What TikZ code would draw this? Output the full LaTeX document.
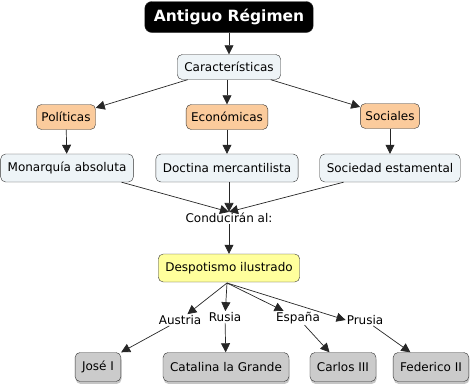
\documentclass[tikz,border=0pt]{standalone}
\usepackage{fontspec}
\setmainfont{DejaVu Sans}
\usepackage{tikz}
\usetikzlibrary{
    arrows.meta,
    positioning,
    shadows
}
\definecolor{titlebg}{rgb}{0.0, 0.0, 0.0}
\definecolor{palebox}{HTML}{EEF4F7}
\definecolor{orangebox}{HTML}{FBCB9C}
\definecolor{yellowbox}{HTML}{FFFF9C}
\definecolor{greybox}{HTML}{CBCBCB}
\tikzstyle{concept} = [
    rectangle,
    rounded corners=5pt,
    draw=black!80,
    fill=palebox,
    minimum height=28pt,
    inner xsep=7pt,
    font=\fontsize{12}{14}\selectfont
]
\tikzstyle{title} = [
    concept,
    fill=titlebg,
    text=white,
    rounded corners=7pt,
    minimum height=31pt,
    inner xsep=9pt,
    font=\fontsize{15.5}{18}\selectfont\bfseries
]
\tikzstyle{branch} = [concept, fill=orangebox, minimum height=25pt, inner xsep=5pt]
\tikzstyle{result} = [concept, fill=yellowbox]
\tikzstyle{ruler} = [
    concept,
    fill=greybox,
    minimum height=29pt,
    drop shadow={shadow xshift=0.6pt, shadow yshift=-2.5pt, fill=black!45}
]
\tikzstyle{link} = [font=\fontsize{12}{14}\selectfont, inner sep=1pt]
\tikzstyle{arrow} = [
    -{Triangle[length=9pt, width=9pt]},
    draw=black!85,
    line width=0.7pt
]

\begin{document}
\begin{tikzpicture}[x=1pt, y=-1pt]
        \useasboundingbox (0,0) rectangle (474,383);

        % Top of the map
        \node[title] (antiguo) at (229,17) {Antiguo Régimen};
        \node[concept, minimum height=25pt] (carac) at (229,67) {Características};

        % Three kinds
        \node[branch] (pol) at (66,117) {Políticas};
        \node[branch] (eco) at (227,117) {Económicas};
        \node[branch] (soc) at (390,116) {Sociales};

        \node[concept] (monar) at (67,168) {Monarquía absoluta};
        \node[concept] (merca) at (227,168) {Doctina mercantilista};
        \node[concept] (estam) at (390,168) {Sociedad estamental};

        % Middle
        \node[link] (cond) at (229,218) {Conducirán al:};
        \node[result] (despot) at (229,268) {Despotismo ilustrado};
        \coordinate (despbase) at (227,283);

        % Countries
        \node[link] (austria) at (180,320) {Austria};
        \node[link] (rusia) at (225,317) {Rusia};
        \node[link] (espana) at (298,318) {España};
        \node[link] (prusia) at (365,320) {Prusia};

        % Rulers
        \node[ruler] (jose) at (98,367) {José I};
        \node[ruler] (catalina) at (226,367) {Catalina la Grande};
        \node[ruler] (carlos) at (343,367) {Carlos III};
        \node[ruler] (federico) at (431,367) {Federico II};

        % Arrows
        \draw[arrow] (antiguo) -- (carac);
        \draw[arrow] (carac) -- (pol);
        \draw[arrow] (carac.south -| eco.north) -- (eco.north);
        \draw[arrow] (carac) -- (soc);
        \draw[arrow] (pol) -- (monar);
        \draw[arrow] (eco) -- (merca);
        \draw[arrow] (soc) -- (estam);
        \draw[arrow] (monar.south east) ++(-12,0) -- (cond.north);
        \draw[arrow] (merca.south -| cond.north) -- (cond.north);
        \draw[arrow] (estam.south west) ++(24,0) -- (cond.north);
        \draw[arrow] (cond) -- (despot);
        \draw[arrow] (despbase) -- (austria);
        \draw[arrow] (despbase) -- (rusia);
        \draw[arrow] (despbase) -- (espana);
        \draw[arrow] (despbase) -- (prusia.west);
        \draw[arrow] (austria) -- (jose.north east);
        \draw[arrow] (rusia) -- (catalina);
        \draw[arrow] (espana) -- (carlos);
        \draw[arrow] (prusia) -- (federico);
    \end{tikzpicture}
\end{document}
